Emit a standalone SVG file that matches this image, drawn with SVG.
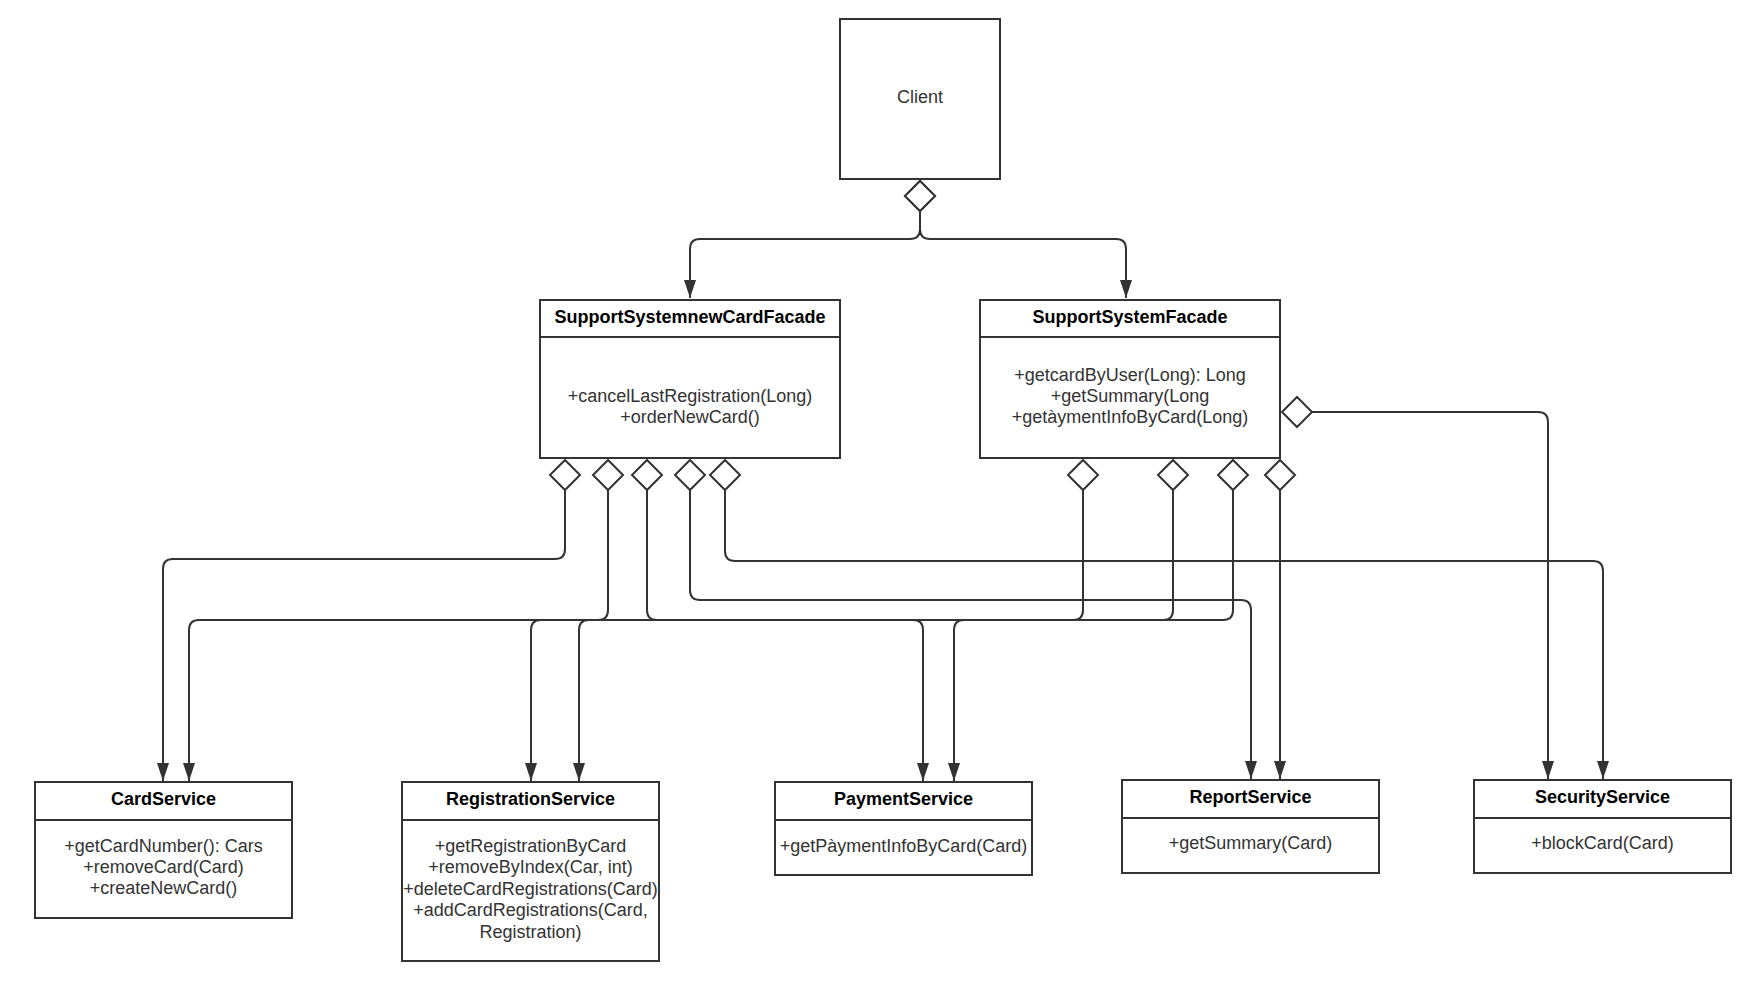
<svg xmlns="http://www.w3.org/2000/svg" width="1761" height="982" viewBox="0 0 1761 982">
<style>
.box{fill:#fff;stroke:#333;stroke-width:2}
.div{stroke:#333;stroke-width:2}
.t{font-family:"Liberation Sans",Arial,sans-serif;font-size:18px;fill:#333;text-anchor:middle}
.b{font-family:"Liberation Sans",Arial,sans-serif;font-size:18px;font-weight:bold;fill:#000;text-anchor:middle}
.c{fill:none;stroke:#333;stroke-width:2;marker-start:url(#dia);marker-end:url(#arr)}
</style>
<defs>
<marker id="arr" markerUnits="userSpaceOnUse" markerWidth="20" markerHeight="14" refX="18" refY="6" orient="auto" overflow="visible">
<path d="M0,0 L18,6 L0,12 Z" fill="#333"/>
</marker>
<marker id="dia" markerUnits="userSpaceOnUse" markerWidth="32" markerHeight="32" refX="0" refY="15" orient="auto" overflow="visible">
<path d="M0,15 L15,0 L30,15 L15,30 Z" fill="#fff" stroke="#333" stroke-width="2"/>
</marker>
</defs>
<rect width="1761" height="982" fill="#fff"/>
<g id="connectors">
<path class="c" d="M920,181 V229 Q920,239 910,239 H700 Q690,239 690,249 V298"/>
<path class="c" d="M920,181 V229 Q920,239 930,239 H1116 Q1126,239 1126,249 V298"/>
<path class="c" d="M565,460 V549 Q565,559 555,559 H173 Q163,559 163,569 V781"/>
<path class="c" d="M608,460 V610 Q608,620 598,620 H199 Q189,620 189,630 V781"/>
<path class="c" d="M647,460 V610 Q647,620 657,620 H913 Q923,620 923,630 V781"/>
<path class="c" d="M690,460 V590 Q690,600 700,600 H1241 Q1251,600 1251,610 V779"/>
<path class="c" d="M725,460 V551 Q725,561 735,561 H1593 Q1603,561 1603,571 V779"/>
<path class="c" d="M1083,460 V610 Q1083,620 1073,620 H541 Q531,620 531,630 V781"/>
<path class="c" d="M1173,460 V610 Q1173,620 1163,620 H589 Q579,620 579,630 V781"/>
<path class="c" d="M1233,460 V610 Q1233,620 1223,620 H964 Q954,620 954,630 V781"/>
<path class="c" d="M1280,460 V779"/>
<path class="c" d="M1282,412 H1538 Q1548,412 1548,422 V779"/>
</g>
<g id="client">
<rect class="box" x="840" y="19" width="160" height="160"/>
<text class="t" x="920" y="103">Client</text>
</g>
<g id="supportSystemNewCardFacade">
<rect class="box" x="540" y="300" width="300" height="158"/>
<line class="div" x1="540" y1="337" x2="840" y2="337"/>
<text class="b" x="690" y="323">SupportSystemnewCardFacade</text>
<text class="t" x="690" y="402">+cancelLastRegistration(Long)</text>
<text class="t" x="690" y="423">+orderNewCard()</text>
</g>
<g id="supportSystemFacade">
<rect class="box" x="980" y="300" width="300" height="158"/>
<line class="div" x1="980" y1="337" x2="1280" y2="337"/>
<text class="b" x="1130" y="323">SupportSystemFacade</text>
<text class="t" x="1130" y="380.5">+getcardByUser(Long): Long</text>
<text class="t" x="1130" y="401.5">+getSummary(Long</text>
<text class="t" x="1130" y="422.5">+getàymentInfoByCard(Long)</text>
</g>
<g id="cardService">
<rect class="box" x="35" y="782" width="257" height="136"/>
<line class="div" x1="35" y1="820" x2="292" y2="820"/>
<text class="b" x="163.5" y="805">CardService</text>
<text class="t" x="163.5" y="851.5">+getCardNumber(): Cars</text>
<text class="t" x="163.5" y="872.5">+removeCard(Card)</text>
<text class="t" x="163.5" y="893.5">+createNewCard()</text>
</g>
<g id="registrationService">
<rect class="box" x="402" y="782" width="257" height="179"/>
<line class="div" x1="402" y1="820" x2="659" y2="820"/>
<text class="b" x="530.5" y="805">RegistrationService</text>
<text class="t" x="530.5" y="851.5">+getRegistrationByCard</text>
<text class="t" x="530.5" y="873">+removeByIndex(Car, int)</text>
<text class="t" x="530.5" y="894.5">+deleteCardRegistrations(Card)</text>
<text class="t" x="530.5" y="916">+addCardRegistrations(Card,</text>
<text class="t" x="530.5" y="937.5">Registration)</text>
</g>
<g id="paymentService">
<rect class="box" x="775" y="782" width="257" height="93"/>
<line class="div" x1="775" y1="820" x2="1032" y2="820"/>
<text class="b" x="903.5" y="805">PaymentService</text>
<text class="t" x="903.5" y="851.5">+getPàymentInfoByCard(Card)</text>
</g>
<g id="reportService">
<rect class="box" x="1122" y="780" width="257" height="93"/>
<line class="div" x1="1122" y1="818" x2="1379" y2="818"/>
<text class="b" x="1250.5" y="803">ReportService</text>
<text class="t" x="1250.5" y="849">+getSummary(Card)</text>
</g>
<g id="securityService">
<rect class="box" x="1474" y="780" width="257" height="93"/>
<line class="div" x1="1474" y1="818" x2="1731" y2="818"/>
<text class="b" x="1602.5" y="803">SecurityService</text>
<text class="t" x="1602.5" y="849">+blockCard(Card)</text>
</g>
</svg>
